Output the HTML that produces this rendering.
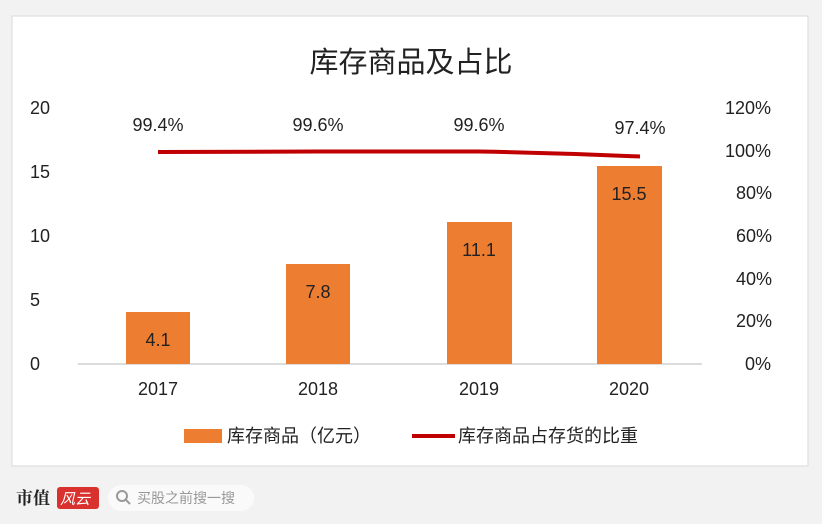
<!DOCTYPE html>
<html><head><meta charset="utf-8"><style>
body{margin:0;width:822px;height:524px;background:#f2f2f2;overflow:hidden;font-family:"Liberation Sans","Noto Sans CJK SC",sans-serif;}
</style></head><body>
<svg width="822" height="524" xmlns="http://www.w3.org/2000/svg" style="position:absolute;left:0;top:0">
<rect x="0" y="0" width="822" height="524" fill="#f2f2f2"/>
<rect x="12" y="16" width="796" height="450" fill="#fff" stroke="#d9d9d9"/>
<g font-family="Liberation Sans, Noto Sans CJK SC, sans-serif" fill="#222">
<text x="411" y="72" font-size="29" text-anchor="middle">库存商品及占比</text>
<g font-size="18" text-anchor="start">
<text x="30" y="114">20</text><text x="30" y="178">15</text><text x="30" y="242">10</text><text x="30" y="306">5</text><text x="30" y="370">0</text>
</g>
<g font-size="18" text-anchor="start">
<text x="725" y="114">120%</text><text x="725" y="157">100%</text><text x="736" y="199">80%</text><text x="736" y="242">60%</text><text x="736" y="285">40%</text><text x="736" y="327">20%</text><text x="745" y="370">0%</text>
</g>
<line x1="78" y1="364" x2="702" y2="364" stroke="#d0d0d0" stroke-width="1.5"/>
<g fill="#ed7d31">
<rect x="126" y="312" width="64" height="52"/>
<rect x="286" y="264" width="64" height="100"/>
<rect x="447" y="222" width="65" height="142"/>
<rect x="597" y="166" width="65" height="198"/>
</g>
<g font-size="18" text-anchor="middle">
<text x="158" y="346">4.1</text><text x="318" y="298">7.8</text><text x="479" y="256">11.1</text><text x="629" y="200">15.5</text>
<text x="158" y="395">2017</text><text x="318" y="395">2018</text><text x="479" y="395">2019</text><text x="629" y="395">2020</text>
<text x="158" y="131">99.4%</text><text x="318" y="131">99.6%</text><text x="479" y="131">99.6%</text><text x="640" y="134">97.4%</text>
</g>
<path d="M158 152 L318 151.5 L479 151.5 Q560 153 640 156.5" stroke="#c00000" stroke-width="4" fill="none"/>
<rect x="184" y="429" width="38" height="14" fill="#ed7d31"/>
<text x="227" y="442" font-size="18">库存商品（亿元）</text>
<line x1="412" y1="436" x2="455" y2="436" stroke="#c00000" stroke-width="4"/>
<text x="458" y="442" font-size="18">库存商品占存货的比重</text>
</g>
<text x="16" y="504" font-size="17" font-weight="bold" font-family="Noto Serif CJK SC, serif" fill="#222">市值</text>
<rect x="57" y="487" width="42" height="22" rx="3" fill="#d9322e"/>
<text x="60" y="504" font-size="15" fill="#fff" font-style="italic" font-family="Noto Sans CJK SC, sans-serif">风云</text>
<rect x="108" y="485" width="146" height="26" rx="13" fill="#fafafa"/>
<circle cx="122" cy="496" r="5" stroke="#999" stroke-width="2" fill="none"/>
<line x1="126" y1="500" x2="130" y2="504" stroke="#999" stroke-width="2"/>
<text x="137" y="503" font-size="14" fill="#999" font-family="Noto Sans CJK SC, sans-serif">买股之前搜一搜</text>
</svg>
</body></html>
